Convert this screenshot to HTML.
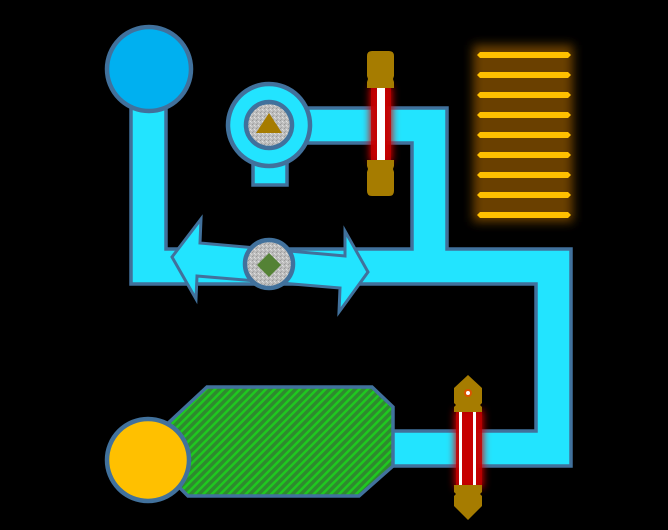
<!DOCTYPE html>
<html><head><meta charset="utf-8"><style>html,body{margin:0;padding:0;background:#000;}svg{display:block}</style></head>
<body>
<svg width="668" height="530" viewBox="0 0 668 530" xmlns="http://www.w3.org/2000/svg">
<defs>
<pattern id="hatch" width="6" height="6" patternUnits="userSpaceOnUse" patternTransform="rotate(45)">
<rect width="6" height="6" fill="#2e8b2e"/><rect width="2.5" height="6" fill="#1fc81f"/>
</pattern>
<pattern id="noise" width="4" height="4" patternUnits="userSpaceOnUse">
<rect width="4" height="4" fill="#bdbdbd"/><rect x="0" y="0" width="1" height="1" fill="#9a9a9a"/><rect x="2" y="1" width="1" height="1" fill="#e0e0e0"/><rect x="1" y="3" width="1" height="1" fill="#a5a5a5"/><rect x="3" y="2" width="1" height="1" fill="#d5d5d5"/>
</pattern>
<filter id="glow" x="-50%" y="-20%" width="200%" height="140%"><feGaussianBlur stdDeviation="4"/></filter>
<filter id="glow2" x="-20%" y="-20%" width="140%" height="140%"><feGaussianBlur stdDeviation="5"/></filter>
</defs>

<!-- pipes -->
<path d="M131,95 L131,284 L536,284 L536,431 L392,431 L392,466 L571,466 L571,249 L447,249 L447,108 L300,108 L300,143 L412,143 L412,249 L166,249 L166,95 Z" fill="#22e4ff" stroke="#41719c" stroke-width="3.5" stroke-linejoin="miter"/>

<!-- top-left circle -->
<circle cx="149" cy="69" r="42" fill="#00b0f0" stroke="#41719c" stroke-width="4.5"/>

<!-- pump -->
<rect x="253" y="155" width="34" height="30" fill="#22e4ff" stroke="#41719c" stroke-width="3.5"/>
<circle cx="269" cy="125" r="41" fill="#22e4ff" stroke="#41719c" stroke-width="4.5"/>
<circle cx="269" cy="125" r="23" fill="url(#noise)" stroke="#41719c" stroke-width="4.5"/>
<polygon points="269,113 282,133 256,133" fill="#a67c00"/>

<!-- double arrow -->
<polygon points="172,257 201,219 200,243 345,256 345,231 368,272 339,312 340,288 197,276 196,299" fill="#22e4ff" stroke="#41719c" stroke-width="3"/>
<circle cx="269" cy="264" r="24" fill="url(#noise)" stroke="#41719c" stroke-width="4.5"/>
<polygon points="269,253 281,265 269,277 257,265" fill="#548235"/>

<!-- top fuse -->
<rect x="370" y="86" width="22" height="76" fill="#e00000" filter="url(#glow)"/>
<rect x="371" y="86" width="20" height="76" fill="#c00000" opacity="0.8"/>
<rect x="377" y="88" width="8" height="72" fill="#fff"/>
<path d="M367,56 Q367,51 372,51 L389,51 Q394,51 394,56 L394,76 L393,79 L394,82 L394,88 L367,88 L367,82 L368,79 L367,76 Z" fill="#a67c00"/>
<path d="M367,160 L394,160 L394,166 L393,169 L394,172 L394,191 Q394,196 389,196 L372,196 Q367,196 367,191 L367,172 L368,169 L367,166 Z" fill="#a67c00"/>

<!-- heater -->
<rect x="473" y="45" width="100" height="177" fill="#6b3f00" filter="url(#glow2)"/>
<g fill="#ffc000">
<polygon points="480,52 568,52 571,55 568,58 480,58 477,55"/>
<polygon points="480,72 568,72 571,75 568,78 480,78 477,75"/>
<polygon points="480,92 568,92 571,95 568,98 480,98 477,95"/>
<polygon points="480,112 568,112 571,115 568,118 480,118 477,115"/>
<polygon points="480,132 568,132 571,135 568,138 480,138 477,135"/>
<polygon points="480,152 568,152 571,155 568,158 480,158 477,155"/>
<polygon points="480,172 568,172 571,175 568,178 480,178 477,175"/>
<polygon points="480,192 568,192 571,195 568,198 480,198 477,195"/>
<polygon points="480,212 568,212 571,215 568,218 480,218 477,215"/>
</g>

<!-- tank -->
<polygon points="207,387 372,387 393,407 393,466 359,496 188,496 150,458 150,440" fill="url(#hatch)" stroke="#41719c" stroke-width="3.5"/>
<circle cx="148" cy="460" r="41" fill="#ffc000" stroke="#41719c" stroke-width="4.5"/>

<!-- bottom fuse -->
<rect x="455" y="410" width="28" height="78" fill="#e00000" filter="url(#glow)"/>
<rect x="456" y="410" width="26" height="78" fill="#c00000" opacity="0.8"/>
<rect x="459" y="412" width="3" height="74" fill="#fff"/>
<rect x="473" y="412" width="3" height="74" fill="#fff"/>
<polygon points="468,375 482,388 482,403 480,405 482,407 482,412 454,412 454,407 456,405 454,403 454,388" fill="#a67c00"/>
<circle cx="468" cy="393" r="4" fill="#ff3b00" opacity="0.6"/>
<circle cx="468" cy="393" r="2" fill="#fff"/>
<polygon points="454,485 482,485 482,492 480,494 482,496 482,506 468,520 454,506 454,496 456,494 454,492" fill="#a67c00"/>
</svg>
</body></html>
